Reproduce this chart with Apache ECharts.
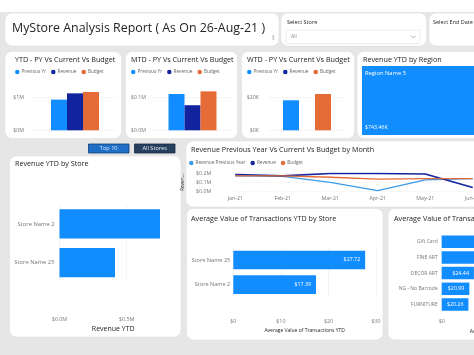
<!DOCTYPE html>
<html><head><meta charset="utf-8">
<script src="https://cdn.jsdelivr.net/npm/echarts@6/dist/echarts.min.js"></script>
<style>html,body{margin:0;padding:0;background:#fff}#c{width:474px;height:355px}</style>
</head><body><div id="c"></div><script>
// ---- data ----
const kpiSeries = ['Previous Yr', 'Revenue', 'Budget'];
const ytdValues = [0.93, 1.12, 1.16];      // $M
const mtdValues = [0.110, 0.076, 0.118];   // $M
const wtdValues = [18.2, 0, 22.0];         // $K
const regionNames = ['Region Name 5'];
const regionValues = [743.46];             // $K
const storeNames = ['Store Name 2', 'Store Name 25'];
const storeRevenue = [0.748, 0.413];       // $M
const months = ['Jan-21', 'Feb-21', 'Mar-21', 'Apr-21', 'May-21', 'Jun-21'];
const lineSeriesNames = ['Revenue Previous Year', 'Revenue', 'Budget'];
const prevYearByMonth = [0.170, 0.165, 0.100, 0.010, 0.127, 0.140];
const revenueByMonth  = [0.185, 0.170, 0.195, 0.195, 0.190, 0.043];
const budgetByMonth   = [0.170, 0.170, 0.155, 0.135, 0.140, 0.140];
const avgStoreNames = ['Store Name 25', 'Store Name 2'];
const avgStoreValues = [27.72, 17.39];
const productNames = ['Gift Card', 'FINE ART', 'DECOR ART', 'NG - No Barcode', 'FURNITURE'];
const productValues = [38.5, 31.2, 24.44, 20.99, 20.26];
const productAxisMax = 24.5;

const C = ['#118DFF', '#12239E', '#E66C37'];
const FONT = 'Open Sans';
const chart = echarts.init(document.getElementById('c'), null, {renderer: 'canvas'});

function panel(x, y, w, h) {
  return {type: 'rect', z: -10, shape: {x: x, y: y, width: w, height: h, r: 7},
    style: {fill: '#fff', stroke: '#dcdcdc', lineWidth: 0.5}};
}
function txt(x, y, t, size, color, align) {
  return {type: 'text', z: 10, x: x, y: y,
    style: {text: t, fontSize: size, fontFamily: FONT, fill: color, textAlign: align || 'left', textVerticalAlign: 'middle'}};
}
function ttl(t, left, top, size) {
  return {text: t, left: left, top: top, padding: 0,
    textStyle: {fontSize: size || 7.2, fontWeight: 'normal', color: '#252423', fontFamily: FONT}};
}

const grids = [
  {left: 33, top: 90.7, width: 84, height: 39.6},
  {left: 153, top: 90.7, width: 79, height: 39.6},
  {left: 268, top: 90.7, width: 78, height: 39.6},
  {left: 59.5, top: 204.6, width: 107.5, height: 77.4},
  {left: 235.25, top: 173.1, width: 237.5, height: 18.4},
  {left: 233.3, top: 247.6, width: 142.7, height: 49.4},
  {left: 441.7, top: 233.85, width: 32.3, height: 78.5}
].map(function (g) { g.outerBoundsMode = 'none'; g.containLabel = false; return g; });

const axLbl = {fontSize: 5.3, color: '#777', fontFamily: FONT};
const faint = {lineStyle: {color: '#eeeeee', width: 0.6}};

function kpiX(i) {
  return {type: 'category', gridIndex: i, data: [''], axisLine: {show: false}, axisTick: {show: false}, axisLabel: {show: false}};
}
function kpiY(i, max, interval, fmt, margin) {
  return {type: 'value', gridIndex: i, min: 0, max: max, interval: interval,
    axisLine: {show: false}, axisTick: {show: false},
    splitLine: Object.assign({showMaxLine: false}, faint),
    axisLabel: Object.assign({showMaxLabel: false, margin: margin, formatter: fmt}, axLbl)};
}

const kpiData = [ytdValues, mtdValues, wtdValues];
const series = [];
kpiData.forEach(function (vals, g) {
  kpiSeries.forEach(function (name, k) {
    series.push({type: 'bar', name: name, xAxisIndex: g, yAxisIndex: g, barWidth: 16, barGap: '0%',
      itemStyle: {color: C[k]}, data: [vals[k]], silent: true});
  });
});

series.push({type: 'treemap', left: 362, top: 66, width: 112, height: 69, roam: false, nodeClick: false,
  breadcrumb: {show: false}, silent: true,
  itemStyle: {borderWidth: 0, gapWidth: 0},
  label: {show: true, position: 'insideTopLeft', padding: [3, 3],
    formatter: function (p) { return '{n|' + p.name + '}\n{v|$' + p.value.toFixed(2) + 'K}'; },
    rich: {n: {fontSize: 5.8, color: '#fff', fontFamily: FONT, lineHeight: 9},
           v: {fontSize: 5.3, color: '#fff', fontFamily: FONT, padding: [47, 0, 0, 0]}}},
  data: regionNames.map(function (n, i) { return {name: n, value: regionValues[i], itemStyle: {color: C[0]}}; })
});

series.push({type: 'bar', name: 'Revenue YTD', xAxisIndex: 3, yAxisIndex: 3, barWidth: 29.3,
  itemStyle: {color: C[0]}, data: storeRevenue, silent: true});

const lineVals = [prevYearByMonth, revenueByMonth, budgetByMonth];
const lineColors = ['#3A9BE8', C[1], C[2]];
lineSeriesNames.forEach(function (n, k) {
  series.push({type: 'line', name: n, xAxisIndex: 4, yAxisIndex: 4, showSymbol: false, symbol: 'none',
    lineStyle: {color: lineColors[k], width: k === 1 ? 1.6 : 1.3}, itemStyle: {color: lineColors[k]},
    data: lineVals[k], silent: true});
});

const dataLbl = {show: true, position: 'insideRight', color: '#fff', fontSize: 5.3, fontFamily: FONT,
  formatter: function (p) { return '$' + p.value.toFixed(2); }};
series.push({type: 'bar', name: 'Avg Store', xAxisIndex: 5, yAxisIndex: 5, barWidth: 18.6,
  itemStyle: {color: C[0]}, label: dataLbl, data: avgStoreValues, silent: true});
series.push({type: 'bar', name: 'Avg Product', xAxisIndex: 6, yAxisIndex: 6, barWidth: 12.5,
  itemStyle: {color: C[0]}, label: dataLbl, silent: true,
  data: productValues.map(function (v) { return {value: v, label: {show: v <= productAxisMax}}; })});

const legendBase = {icon: 'circle', itemWidth: 4.5, itemHeight: 4.5, itemGap: 5, padding: 0, selectedMode: false,
  textStyle: {fontSize: 4.7, color: '#666', fontFamily: FONT, padding: [0, 0, 0, -3]}};

const option = {
  animation: false,
  textStyle: {fontFamily: FONT},
  title: [
    ttl('MyStore Analysis Report ( As On 26-Aug-21 )', 12, 22.5, 12.4),
    ttl('YTD - PY Vs Current Vs Budget', 15, 56),
    ttl('MTD - PY Vs Current Vs Budget', 131, 56),
    ttl('WTD - PY Vs Current Vs Budget', 247, 56),
    ttl('Revenue YTD by Region', 363, 56),
    ttl('Revenue YTD by Store', 15, 160),
    ttl('Revenue Previous Year Vs Current Vs Budget by Month', 191, 146),
    ttl('Average Value of Transactions YTD by Store', 191, 215),
    ttl('Average Value of Transactions YTD by Product', 394, 215)
  ],
  legend: [
    Object.assign({left: 15, top: 69.5, data: kpiSeries}, legendBase),
    Object.assign({left: 131, top: 69.5, data: kpiSeries}, legendBase),
    Object.assign({left: 247, top: 69.5, data: kpiSeries}, legendBase),
    Object.assign({left: 189, top: 160.5, data: lineSeriesNames}, legendBase)
  ],
  grid: grids,
  xAxis: [
    kpiX(0), kpiX(1), kpiX(2),
    {type: 'value', gridIndex: 3, min: 0, max: 0.8, interval: 0.5,
     axisLine: {show: false}, axisTick: {show: false},
     splitLine: Object.assign({showMaxLine: false}, faint),
     axisLabel: Object.assign({showMaxLabel: false, margin: 35, formatter: function (v) { return '$' + v.toFixed(1) + 'M'; }}, axLbl),
     name: 'Revenue YTD', nameLocation: 'middle', nameGap: 43.5,
     nameTextStyle: {fontSize: 7, color: '#252423', fontFamily: FONT}},
    {type: 'category', gridIndex: 4, data: months, boundaryGap: false,
     axisLine: {show: false}, axisTick: {show: false}, axisLabel: Object.assign({margin: 4}, axLbl)},
    {type: 'value', gridIndex: 5, min: 0, max: 30, interval: 10,
     axisLine: {show: false}, axisTick: {show: false}, splitLine: faint,
     axisLabel: Object.assign({margin: 22, formatter: function (v) { return '$' + v; }}, axLbl),
     name: 'Average Value of Transactions YTD', nameLocation: 'middle', nameGap: 31.5,
     nameTextStyle: {fontSize: 5, color: '#252423', fontFamily: FONT}},
    {type: 'value', gridIndex: 6, min: 0, max: productAxisMax, interval: productAxisMax,
     axisLine: {show: false}, axisTick: {show: false},
     splitLine: Object.assign({showMaxLine: false}, faint),
     axisLabel: Object.assign({showMaxLabel: false, margin: 7, formatter: function (v) { return '$' + v; }}, axLbl),
     name: 'Average Value of Transactions YTD', nameLocation: 'start', nameGap: -28,
     nameTextStyle: {fontSize: 5, color: '#252423', fontFamily: FONT, align: 'left', verticalAlign: 'top', padding: [16.5, 0, 0, 0]}}
  ],
  yAxis: [
    kpiY(0, 1.2, 1, function (v) { return '$' + v + 'M'; }, 9),
    kpiY(1, 0.12, 0.1, function (v) { return '$' + v.toFixed(1) + 'M'; }, 7),
    kpiY(2, 24, 20, function (v) { return '$' + v + 'K'; }, 9),
    {type: 'category', gridIndex: 3, data: storeNames, inverse: true,
     axisLine: {show: false}, axisTick: {show: false}, axisLabel: Object.assign({margin: 5}, axLbl, {fontSize: 5.8})},
    {type: 'value', gridIndex: 4, min: 0, max: 0.2, interval: 0.1,
     axisLine: {show: false}, axisTick: {show: false},
     splitLine: {lineStyle: {color: '#e6e6e6', width: 0.6, type: 'dotted'}},
     axisLabel: Object.assign({margin: 24, formatter: function (v) { return '$' + v.toFixed(1) + 'M'; }}, axLbl),
     name: 'Reven...', nameLocation: 'middle', nameRotate: 90, nameGap: 41,
     nameTextStyle: {fontSize: 4.8, color: '#252423', fontFamily: FONT}},
    {type: 'category', gridIndex: 5, data: avgStoreNames, inverse: true,
     axisLine: {show: false}, axisTick: {show: false}, axisLabel: Object.assign({margin: 3}, axLbl, {fontSize: 5.6})},
    {type: 'category', gridIndex: 6, data: productNames, inverse: true,
     axisLine: {show: false}, axisTick: {show: false}, axisLabel: Object.assign({margin: 4}, axLbl, {fontSize: 5})}
  ],
  graphic: {elements: [
    {type: 'rect', z: -20, shape: {x: 0, y: 12, width: 474, height: 343}, style: {fill: '#e6e6e6'}},
    panel(5, 13, 274, 33),
    panel(281, 13, 145.5, 33),
    panel(429, 13, 60, 33),
    panel(5, 51.5, 116.5, 87),
    panel(125.5, 51.5, 112, 87),
    panel(241.5, 51.5, 113, 87),
    panel(357, 51.5, 130, 87),
    panel(9.5, 156, 171.5, 181),
    panel(186, 141, 300, 66),
    panel(186.5, 208.5, 196.5, 131.5),
    panel(388, 208.5, 100, 131.5),
    {type: 'rect', z: 10, shape: {x: 272.5, y: 35, width: 1.6, height: 5}, style: {fill: '#c8c8c8'}},
    txt(287, 22, 'Select Store', 5.5, '#252423'),
    {type: 'rect', z: 5, shape: {x: 286, y: 30, width: 134, height: 13.5, r: 1}, style: {fill: '#fff', stroke: '#e1e1e1', lineWidth: 0.6}},
    txt(291, 37, 'All', 5, '#888'),
    {type: 'polyline', z: 10, shape: {points: [[411, 35.5], [413.5, 38], [416, 35.5]]}, style: {stroke: '#999', lineWidth: 0.7, fill: null}},
    txt(433, 22, 'Select End Date', 5.5, '#252423'),
    {type: 'rect', z: 5, shape: {x: 88.5, y: 144, width: 40.5, height: 9}, style: {fill: '#1F6FC6', stroke: '#0f3f78', lineWidth: 0.8}},
    txt(108.7, 148.5, 'Top 10', 5.6, '#cfe6ff', 'center'),
    {type: 'rect', z: 5, shape: {x: 134.5, y: 144, width: 40.5, height: 9}, style: {fill: '#27405f', stroke: '#162a40', lineWidth: 0.8}},
    txt(154.7, 148.5, 'All Stores', 5.6, '#e8eef5', 'center')
  ]},
  series: series
};
chart.setOption(option);
</script></body></html>
